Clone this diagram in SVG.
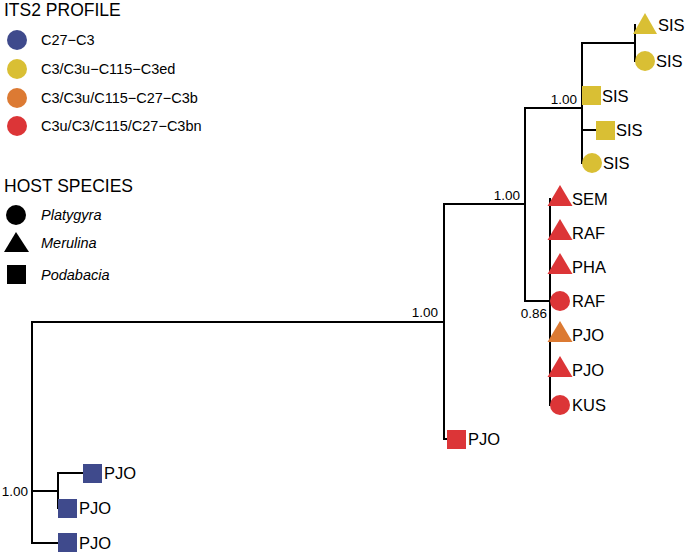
<svg xmlns="http://www.w3.org/2000/svg" width="685" height="552" viewBox="0 0 685 552">
<style>
text{font-family:"Liberation Sans",Arial,sans-serif;fill:#000}
.h{font-size:17.5px}
.lg{font-size:14.5px}
.it{font-size:14.5px;font-style:italic}
.tip{font-size:16.5px}
.bs{font-size:13.5px;text-anchor:end}
.br{stroke:#000;stroke-width:2;fill:none;stroke-linecap:square}
.blue{fill:#3f4a8c}
.yel{fill:#d9bf34}
.ora{fill:#dc7a33}
.red{fill:#dc3537}
.blk{fill:#000}
</style>
<g id="legend">
<text class="h" x="4" y="16">ITS2 PROFILE</text>
<circle class="blue" cx="17" cy="40" r="10"/><text class="lg" x="41" y="45">C27−C3</text>
<circle class="yel" cx="17" cy="69" r="10"/><text class="lg" x="41" y="74">C3/C3u−C115−C3ed</text>
<circle class="ora" cx="17" cy="98" r="10"/><text class="lg" x="41" y="103">C3/C3u/C115−C27−C3b</text>
<circle class="red" cx="17" cy="126" r="10"/><text class="lg" x="41" y="131">C3u/C3/C115/C27−C3bn</text>
<text class="h" x="4" y="192">HOST SPECIES</text>
<circle class="blk" cx="16" cy="215" r="10"/><text class="it" x="41" y="220">Platygyra</text>
<polygon class="blk" points="16,232 4,252 29,252"/><text class="it" x="41" y="248">Merulina</text>
<rect class="blk" x="7" y="265" width="19" height="19"/><text class="it" x="41" y="280">Podabacia</text>
</g>
<g id="connectors">
<path class="br" d="M32,322V543M32,322H444M32,491H58M32,543H58M58,473V508M58,473H83"/>
<path class="br" d="M444,204V439M444,439H447M444,204H525"/>
<path class="br" d="M525,108V301M525,108H582M525,301H550"/>
<path class="br" d="M582,43V163M582,43H635M635,25V61M582,130H596"/>
<path class="br" d="M550,199V405"/>
</g>
<g id="support">
<text class="bs" x="28" y="496">1.00</text>
<text class="bs" x="438" y="317">1.00</text>
<text class="bs" x="520" y="200">1.00</text>
<text class="bs" x="577" y="104">1.00</text>
<text class="bs" x="547" y="318">0.86</text>
</g>
<g id="tip-sis1"><polygon class="yel" points="645,13 633,34 657,34"/><text class="tip" x="658" y="31">SIS</text></g>
<g id="tip-sis2"><circle class="yel" cx="645" cy="61" r="10"/><text class="tip" x="656" y="67">SIS</text></g>
<g id="tip-sis3"><rect class="yel" x="582" y="86" width="19" height="19"/><text class="tip" x="602" y="102">SIS</text></g>
<g id="tip-sis4"><rect class="yel" x="596" y="121" width="19" height="19"/><text class="tip" x="616" y="136">SIS</text></g>
<g id="tip-sis5"><circle class="yel" cx="592" cy="163" r="10"/><text class="tip" x="603" y="169">SIS</text></g>
<g id="tip-sem"><polygon class="red" points="560,185 547.5,206 572.5,206"/><text class="tip" x="572" y="205">SEM</text></g>
<g id="tip-raf1"><polygon class="red" points="560,219 547.5,240 572.5,240"/><text class="tip" x="572" y="239">RAF</text></g>
<g id="tip-pha"><polygon class="red" points="560,253 547.5,274 572.5,274"/><text class="tip" x="572" y="273">PHA</text></g>
<g id="tip-raf2"><circle class="red" cx="560" cy="301" r="10"/><text class="tip" x="572" y="307">RAF</text></g>
<g id="tip-pjo1"><polygon class="ora" points="560,321 547.5,342 572.5,342"/><text class="tip" x="572" y="341">PJO</text></g>
<g id="tip-pjo2"><polygon class="red" points="560,356 547.5,377 572.5,377"/><text class="tip" x="572" y="376">PJO</text></g>
<g id="tip-kus"><circle class="red" cx="560" cy="405" r="10"/><text class="tip" x="572" y="411">KUS</text></g>
<g id="tip-pjo3"><rect class="red" x="447" y="430" width="19" height="19"/><text class="tip" x="468" y="445">PJO</text></g>
<g id="tip-pjo4"><rect class="blue" x="83" y="464" width="19" height="19"/><text class="tip" x="104" y="479">PJO</text></g>
<g id="tip-pjo5"><rect class="blue" x="58" y="499" width="19" height="19"/><text class="tip" x="79" y="514">PJO</text></g>
<g id="tip-pjo6"><rect class="blue" x="58" y="533" width="19" height="19"/><text class="tip" x="79" y="549">PJO</text></g>
</svg>
